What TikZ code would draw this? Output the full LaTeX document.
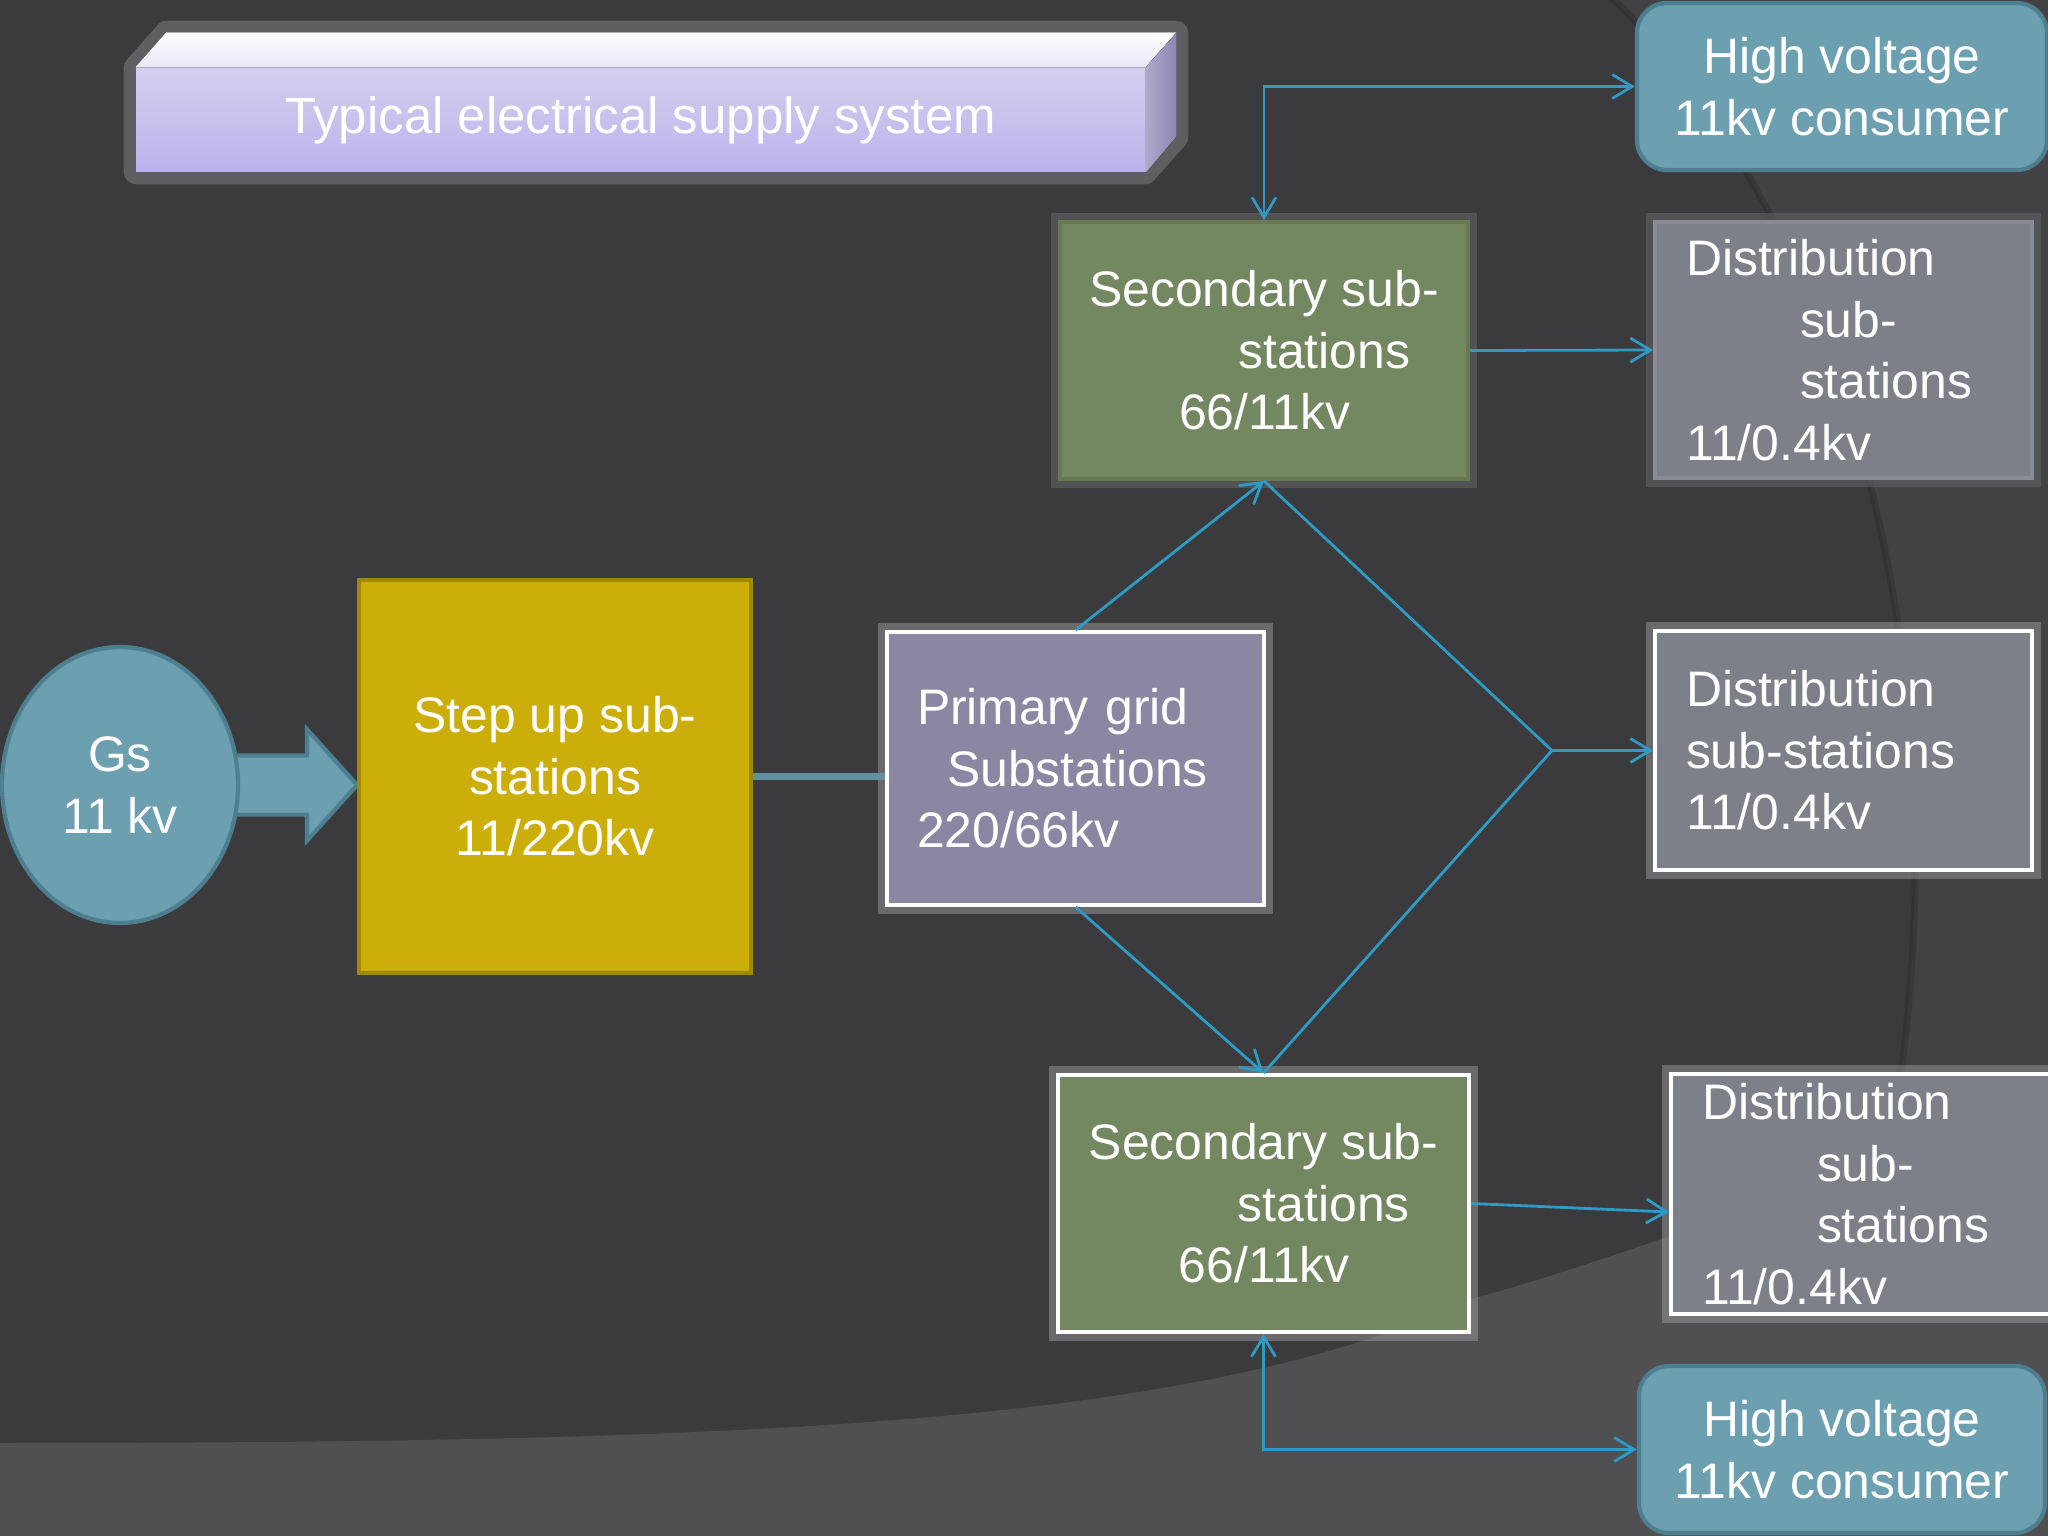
\documentclass[tikz,border=0pt]{standalone}
\usepackage{fontspec}
\setmainfont{Liberation Sans}
\usepackage{xcolor}
\usepackage{tikz}
\usetikzlibrary{shapes.geometric, shapes.arrows, arrows.meta, positioning, calc}

\definecolor{slidebg}{HTML}{3B3A3C}
\definecolor{slidelow}{HTML}{504F51}
\definecolor{slideright}{HTML}{424143}
\definecolor{tealfill}{HTML}{6C9FAF}
\definecolor{tealedge}{HTML}{4E7F90}
\definecolor{goldfill}{HTML}{CCAE0B}
\definecolor{goldedge}{HTML}{A08805}
\definecolor{gridfill}{HTML}{8A87A3}
\definecolor{secfill}{HTML}{738760}
\definecolor{secedge}{HTML}{657A52}
\definecolor{distfill}{HTML}{7D7F89}
\definecolor{distedge}{HTML}{8A8C95}
\definecolor{linkblue}{HTML}{2E9BC6}
\definecolor{busline}{HTML}{6290A2}
\definecolor{bannertop}{HTML}{D3CFEE}
\definecolor{bannermid}{HTML}{B2AADE}
\definecolor{bannerbot}{HTML}{BCB3EC}
\definecolor{bannerlid}{HTML}{E9E7F7}
\definecolor{bannerside}{HTML}{8C86B4}
\definecolor{glowgray}{HTML}{A4A4A8}
\definecolor{glowdark}{HTML}{6E6E72}

\begin{document}
\begin{tikzpicture}[
        font=\fontsize{14.2pt}{17.5pt}\selectfont, text=white,
        >={Straight Barb[length=2mm, width=2.4mm]},
        boxnode/.style={rectangle, inner sep=0pt, line width=1.1pt, align=left},
        glow/.style={preaction={draw=#1, line width=5pt, draw opacity=0.45}},
        glow/.default=glowgray,
        tealnode/.style={fill=tealfill, draw=tealedge, line width=1.2pt, align=center},
        linkstyle/.style={line width=0.8pt, color=linkblue}
    ]
        \useasboundingbox (0,0) rectangle (20.48,-15.36);
        \clip (0,0) rectangle (20.48,-15.36);

        % Slide background
        \fill[slidebg] (0,0) rectangle (20.48,-15.36);
        \begin{scope}
            \clip (14,0) rectangle (20.48,-15.36);
            \fill[slideright, even odd rule] (14,0) rectangle (20.48,-15.36)
                (13.0,-8.6) ellipse [x radius=6.15, y radius=10.0];
            \draw[black, line width=2pt, opacity=0.12] (13.0,-8.6) ellipse [x radius=6.15, y radius=10.0];
        \end{scope}
        \fill[slidelow] (0,-14.43) .. controls (7.5,-14.43) and (12,-14.25) .. (14.68,-13.0)
            .. controls (16.5,-12.5) and (18.5,-11.7) .. (20.48,-10.9)
            -- (20.48,-15.36) -- (0,-15.36) -- cycle;

        % Title bar
        \draw[glowgray, line width=7pt, line join=round, opacity=0.35] (1.36,-1.72) -- (1.36,-0.68) -- (1.67,-0.33) -- (11.76,-0.33) -- (11.76,-1.37) -- (11.45,-1.72) -- cycle;
        \node[rectangle, inner sep=0pt, minimum width=10.09cm, minimum height=1.04cm, top color=bannertop, middle color=bannermid, bottom color=bannerbot, font=\fontsize{14.5pt}{17.5pt}\selectfont] (title) at (6.405,-1.20) {Typical electrical supply system};
        \fill[top color=white, bottom color=bannerlid] (title.north west) -- ++(0.31,0.35) -- ($(title.north east)+(0.31,0.35)$) -- (title.north east) -- cycle;
        \fill[left color=bannerside!70!white, right color=bannerside] (title.north east) -- ++(0.31,0.35) -- ++(0,-1.04) -- (title.south east) -- cycle;

        % Generation and step up
        \node[single arrow, tealnode, inner xsep=0pt, inner ysep=0.275cm, anchor=tail, minimum height=1.30cm, single arrow head extend=0.26cm, single arrow tip angle=96] (gsarrow) at (2.25,-7.85) {};
        \node[ellipse, tealnode, minimum width=2.36cm, minimum height=2.76cm] (gs) at (1.20,-7.85) {Gs\\11 kv};
        \node[boxnode, fill=goldfill, draw=goldedge, align=center, minimum width=3.92cm, minimum height=3.93cm] (stepup) at (5.55,-7.765) {Step up sub-\\stations\\11/220kv};
        \node[boxnode, glow, fill=gridfill, draw=white, minimum width=3.77cm, minimum height=2.73cm, text width=3.17cm] (primary) at (10.755,-7.685) {Primary grid\\\hspace*{0.3cm}Substations\\220/66kv};

        % Secondary column
        \node[boxnode, glow=glowdark, fill=secfill, draw=secedge, minimum width=4.08cm, minimum height=2.57cm] (sectop) at (12.64,-3.505) {Secondary sub-\\\hspace*{1.49cm}stations\\\hspace*{0.90cm}66/11kv};
        \node[boxnode, glow, fill=secfill, draw=white, minimum width=4.11cm, minimum height=2.57cm] (secbot) at (12.635,-12.035) {Secondary sub-\\\hspace*{1.49cm}stations\\\hspace*{0.90cm}66/11kv};

        % Right column
        \node[rectangle, tealnode, rounded corners=0.3cm, minimum width=4.10cm, minimum height=1.67cm] (hvtop) at (18.42,-0.865) {High voltage\\11kv consumer};
        \node[boxnode, glow=glowdark, fill=distfill, draw=distedge, minimum width=3.77cm, minimum height=2.56cm, text width=3.15cm] (dist1) at (18.435,-3.50) {Distribution\\\hspace*{1.14cm}sub-\\\hspace*{1.14cm}stations\\11/0.4kv};
        \node[boxnode, glow, fill=distfill, draw=white, minimum width=3.77cm, minimum height=2.39cm, text width=3.15cm] (dist2) at (18.435,-7.505) {Distribution\\sub-stations\\11/0.4kv};
        \node[boxnode, glow, fill=distfill, draw=white, minimum width=3.85cm, minimum height=2.40cm, text width=3.23cm] (dist3) at (18.635,-11.94) {Distribution\\\hspace*{1.15cm}sub-\\\hspace*{1.15cm}stations\\11/0.4kv};
        \node[rectangle, tealnode, rounded corners=0.3cm, minimum width=4.06cm, minimum height=1.67cm] (hvbot) at (18.42,-14.495) {High voltage\\11kv consumer};

        % Feeders
        \coordinate (tap) at (15.52,-7.505);
        \draw[busline, line width=2pt] (stepup.east) -- (stepup.east -| primary.west);
        \draw[linkstyle, <->] (sectop.north) |- (hvtop.west);
        \draw[linkstyle, ->] (sectop.east) -- (dist1.west);
        \draw[linkstyle, ->] (primary.north) -- (sectop.south);
        \draw[linkstyle, ->] (primary.south) -- (secbot.north);
        \draw[linkstyle] (sectop.south) -- (tap) -- (secbot.north);
        \draw[linkstyle, ->] (tap) -- (dist2.west);
        \draw[linkstyle, ->] (secbot.east) -- ([yshift=-0.18cm]dist3.west);
        \draw[linkstyle, <->] (secbot.south) |- (hvbot.west);
    \end{tikzpicture}
\end{document}
